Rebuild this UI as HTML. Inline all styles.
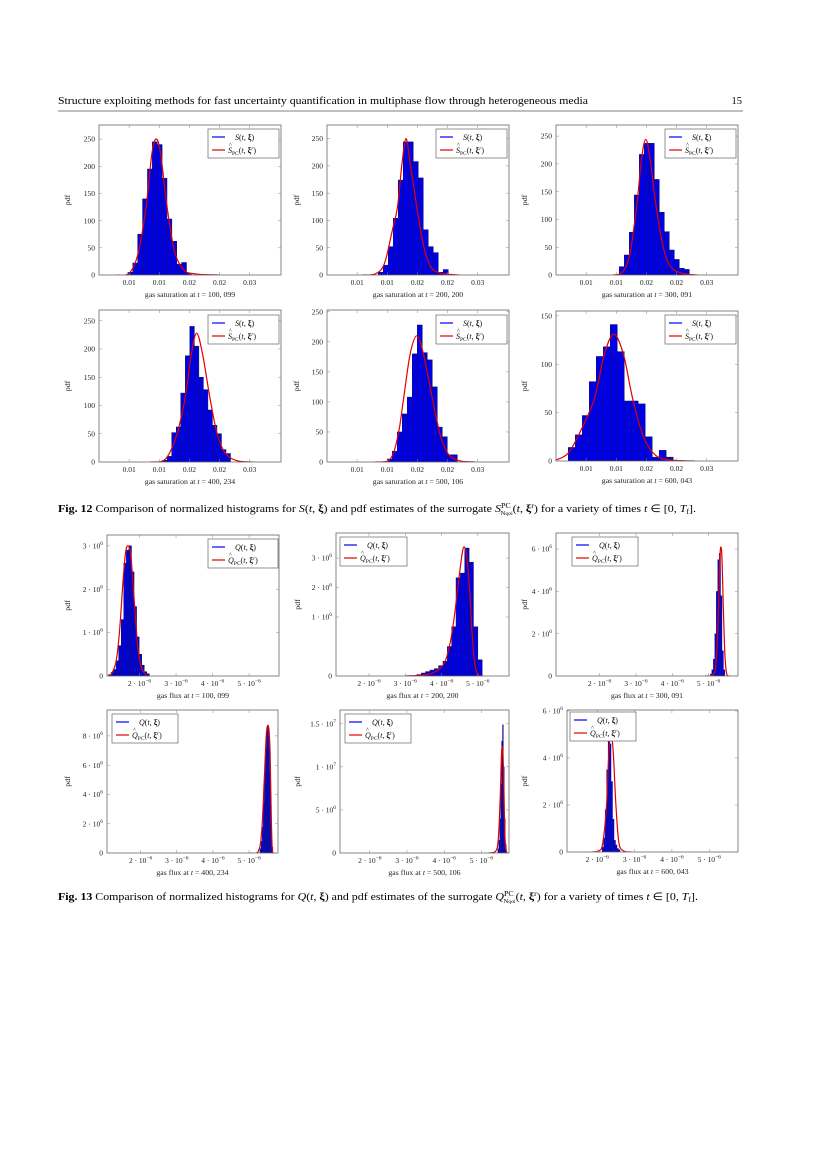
<!DOCTYPE html>
<html><head><meta charset="utf-8"><style>
html,body{margin:0;padding:0;background:#fff;}
svg{display:block;font-family:"Liberation Serif",serif;}
</style></head><body>
<svg id="page" width="827" height="1169" viewBox="0 0 827 1169" xmlns="http://www.w3.org/2000/svg">
<text x="58" y="104" font-size="10.5" textLength="530" lengthAdjust="spacingAndGlyphs">Structure exploiting methods for fast uncertainty quantification in multiphase flow through heterogeneous media</text>
<text x="742" y="104" font-size="10.5" text-anchor="end">15</text>
<line x1="58" y1="111" x2="743" y2="111" stroke="#000" stroke-width="0.6"/>
<text x="58" y="512" font-size="10.5" textLength="638" lengthAdjust="spacingAndGlyphs"><tspan font-weight="bold">Fig. 12</tspan>  Comparison of normalized histograms for <tspan font-style="italic">S</tspan>(<tspan font-style="italic">t</tspan>, <tspan font-weight="bold">ξ</tspan>) and pdf estimates of the surrogate <tspan font-style="italic">S</tspan><tspan font-size="7" dy="-4">PC</tspan><tspan font-size="6" dy="7" dx="-9">N<tspan font-size="5">qoi</tspan></tspan><tspan dy="-3">(</tspan><tspan font-style="italic">t</tspan>, <tspan font-weight="bold">ξ</tspan><tspan font-size="7" dy="-4">r</tspan><tspan dy="4">) for a variety of times </tspan><tspan font-style="italic">t</tspan> ∈ [0, <tspan font-style="italic">T</tspan><tspan font-size="7" dy="2">f</tspan><tspan dy="-2">].</tspan></text>
<text x="58" y="900" font-size="10.5" textLength="640" lengthAdjust="spacingAndGlyphs"><tspan font-weight="bold">Fig. 13</tspan>  Comparison of normalized histograms for <tspan font-style="italic">Q</tspan>(<tspan font-style="italic">t</tspan>, <tspan font-weight="bold">ξ</tspan>) and pdf estimates of the surrogate <tspan font-style="italic">Q</tspan><tspan font-size="7" dy="-4">PC</tspan><tspan font-size="6" dy="7" dx="-9">N<tspan font-size="5">qoi</tspan></tspan><tspan dy="-3">(</tspan><tspan font-style="italic">t</tspan>, <tspan font-weight="bold">ξ</tspan><tspan font-size="7" dy="-4">r</tspan><tspan dy="4">) for a variety of times </tspan><tspan font-style="italic">t</tspan> ∈ [0, <tspan font-style="italic">T</tspan><tspan font-size="7" dy="2">f</tspan><tspan dy="-2">].</tspan></text>
</svg>
<script>
// ---- Saturation data (x in saturation units, y in pdf) ----
const satXTicks = [0.005, 0.01, 0.015, 0.02, 0.025];
const satXTickLabels = ['0.01', '0.01', '0.02', '0.02', '0.03'];
const satYTicks = [0, 50, 100, 150, 200, 250];
const sat6YTicks = [0, 50, 100, 150];

const s1BinStart = 0.0048, s1BinWidth = 0.00081;
const s1Counts = [5, 22, 75, 140, 195, 245, 240, 178, 103, 62, 20, 23, 3];
const s1CurveX = [0.003, 0.005, 0.0065, 0.0078, 0.0088, 0.0095, 0.0102, 0.0113, 0.0125, 0.014, 0.016, 0.02];
const s1CurveY = [0, 3, 40, 125, 225, 250, 225, 125, 45, 10, 2, 0];

const s2BinStart = 0.0085, s2BinWidth = 0.00083;
const s2Counts = [5, 18, 52, 104, 174, 244, 244, 208, 178, 83, 52, 41, 5, 10];
const s2CurveX = [0.006, 0.008, 0.0095, 0.0108, 0.0117, 0.0124, 0.0131, 0.0138, 0.0149, 0.016, 0.0172, 0.019, 0.022];
const s2CurveY = [0, 2, 20, 80, 125, 200, 250, 205, 125, 55, 15, 3, 0];

const s3BinStart = 0.0105, s3BinWidth = 0.00083;
const s3Counts = [15, 36, 77, 144, 217, 237, 237, 172, 113, 78, 45, 28, 12, 10];
const s3CurveX = [0.0095, 0.011, 0.0122, 0.0134, 0.0142, 0.0149, 0.0156, 0.0166, 0.0178, 0.019, 0.021, 0.0235];
const s3CurveY = [0, 5, 35, 125, 210, 244, 210, 125, 50, 15, 3, 0];

const s4BinStart = 0.01057, s4BinWidth = 0.00075;
const s4Counts = [3, 10, 52, 62, 122, 188, 240, 205, 150, 128, 92, 65, 50, 22, 15];
const s4CurveX = [0.0085, 0.011, 0.0128, 0.0143, 0.0153, 0.0162, 0.0172, 0.0184, 0.0196, 0.021, 0.023, 0.0255];
const s4CurveY = [0, 5, 45, 114, 190, 228, 190, 114, 50, 15, 2, 0];

const s5BinStart = 0.0100, s5BinWidth = 0.00083;
const s5Counts = [5, 18, 50, 80, 108, 180, 228, 182, 170, 125, 58, 42, 12, 12];
const s5CurveX = [0.008, 0.0105, 0.0118, 0.0127, 0.0138, 0.0149, 0.016, 0.0175, 0.0188, 0.0202, 0.022, 0.0245];
const s5CurveY = [0, 5, 45, 105, 180, 210, 180, 105, 45, 12, 2, 0];

const s6BinStart = 0.00204, s6BinWidth = 0.00116;
const s6Counts = [14, 27, 47, 82, 108, 118, 141, 113, 62, 62, 59, 25, 4, 11, 4];
const s6CurveX = [0.0, 0.002, 0.004, 0.0064, 0.008, 0.0096, 0.0112, 0.0127, 0.0145, 0.0165, 0.019, 0.023];
const s6CurveY = [1, 8, 30, 65, 110, 131, 110, 65, 25, 6, 1, 0];

// ---- Flux data (x in units of 1e-6, y in units of 1e6) ----
const fluxXTicks = [2, 3, 4, 5];
const fluxXTickLabels = ['2 · 10^−6', '3 · 10^−6', '4 · 10^−6', '5 · 10^−6'];

const q1BinStart = 1.15, q1BinWidth = 0.07;
const q1Counts = [0.03, 0.08, 0.15, 0.35, 0.7, 1.3, 2.6, 2.9, 3.0, 2.4, 1.6, 0.9, 0.5, 0.25, 0.1, 0.05];
const q1CurveX = [1.2, 1.35, 1.45, 1.55, 1.62, 1.69, 1.76, 1.85, 1.95, 2.05, 2.2];
const q1CurveY = [0, 0.3, 1, 2.2, 2.85, 3.0, 2.8, 1.8, 0.7, 0.2, 0];
const q1YTicks = [0, 1, 2, 3];
const q1YTickLabels = ['0', '1 · 10^6', '2 · 10^6', '3 · 10^6'];

const q2BinStart = 3.32, q2BinWidth = 0.12;
const q2Counts = [-0.95, -0.9, -0.85, -0.8, -0.75, -0.65, -0.5, 0, 0.67, 2.33, 2.49, 3.34, 2.86, 0.67, -0.45];
const q2CurveX = [3.0, 3.6, 3.9, 4.1, 4.25, 4.35, 4.45, 4.55, 4.62, 4.7, 4.78, 4.85, 4.92, 5.0, 5.15];
const q2CurveY = [-1, -0.95, -0.8, -0.5, 0.2, 1.0, 2.0, 3.0, 3.38, 3.0, 1.8, 0.3, -0.6, -0.95, -1];
const q2YTicks = [-1, 1, 2, 3];
const q2YTickLabels = ['0', '1 · 10^6', '2 · 10^6', '3 · 10^6'];

const q3BinStart = 5.05, q3BinWidth = 0.04;
const q3Counts = [0.1, 0.3, 0.8, 2.0, 4.0, 5.5, 5.8, 3.8, 1.2, 0.3];
const q3CurveX = [4.9, 5.15, 5.22, 5.27, 5.31, 5.34, 5.37, 5.41, 5.45, 5.5, 5.6];
const q3CurveY = [0, 0.1, 1.0, 3.0, 5.5, 6.1, 5.5, 3.0, 1.0, 0.1, 0];
const q3YTicks = [0, 2, 4, 6];
const q3YTickLabels = ['0', '2 · 10^6', '4 · 10^6', '6 · 10^6'];

const q4BinStart = 5.3, q4BinWidth = 0.03;
const q4Counts = [0.3, 0.8, 1.8, 3.5, 5.5, 7.2, 8.3, 8.7, 8.0, 5.5, 2, 0.4];
const q4CurveX = [5.0, 5.25, 5.35, 5.42, 5.48, 5.54, 5.58, 5.61, 5.64, 5.68];
const q4CurveY = [0, 0.1, 1.5, 5, 8.2, 8.6, 7, 3, 0.3, 0];
const q4YTicks = [0, 2, 4, 6, 8];
const q4YTickLabels = ['0', '2 · 10^6', '4 · 10^6', '6 · 10^6', '8 · 10^6'];

const q5BinStart = 5.44, q5BinWidth = 0.025;
const q5Counts = [0.5, 1.5, 4, 8, 13, 14.9, 10, 4, 1];
const q5CurveX = [5.2, 5.38, 5.45, 5.5, 5.54, 5.57, 5.6, 5.63, 5.67, 5.72];
const q5CurveY = [0, 0.2, 1.5, 6, 11.5, 12, 8, 2, 0.2, 0];
const q5YTicks = [0, 5, 10, 15];
const q5YTickLabels = ['0', '5 · 10^6', '1 · 10^7', '1.5 · 10^7'];

const q6BinStart = 2.13, q6BinWidth = 0.04;
const q6Counts = [0.2, 0.6, 1.8, 3.5, 4.9, 4.6, 3, 1.4, 0.5, 0.3, 0.15, 0.1];
const q6CurveX = [1.85, 2.05, 2.15, 2.25, 2.31, 2.37, 2.43, 2.5, 2.58, 2.7, 2.9];
const q6CurveY = [0, 0.05, 0.4, 2, 4.2, 5.0, 4.2, 2, 0.4, 0.05, 0];
const q6YTicks = [0, 2, 4, 6];
const q6YTickLabels = ['0', '2 · 10^6', '4 · 10^6', '6 · 10^6'];

const NS = 'http://www.w3.org/2000/svg';
const svg = document.getElementById('page');
function mk(tag, attrs, parent) {
  const e = document.createElementNS(NS, tag);
  for (const k in attrs) e.setAttribute(k, attrs[k]);
  if (parent) parent.appendChild(e);
  return e;
}
function supText(el, label) {
  const parts = label.split('^');
  el.appendChild(document.createTextNode(parts[0]));
  if (parts[1]) {
    const t = mk('tspan', {'font-size': '5.5', dy: '-3.5'}, el);
    t.textContent = parts[1];
  }
}
function smoothPath(pts) {
  let d = 'M' + pts[0][0].toFixed(2) + ',' + pts[0][1].toFixed(2);
  for (let i = 0; i < pts.length - 1; i++) {
    const p0 = pts[i - 1] || pts[i], p1 = pts[i], p2 = pts[i + 1], p3 = pts[i + 2] || p2;
    const c1x = p1[0] + (p2[0] - p0[0]) / 6, c1y = p1[1] + (p2[1] - p0[1]) / 6;
    const c2x = p2[0] - (p3[0] - p1[0]) / 6, c2y = p2[1] - (p3[1] - p1[1]) / 6;
    d += 'C' + c1x.toFixed(2) + ',' + c1y.toFixed(2) + ' ' + c2x.toFixed(2) + ',' + c2y.toFixed(2) + ' ' + p2[0].toFixed(2) + ',' + p2[1].toFixed(2);
  }
  return d;
}
let clipId = 0;
function drawChart(c) {
  const g = mk('g', {}, svg);
  
  
  const b = c.box;
  const sx = v => b.x + (v - c.xd[0]) / (c.xd[1] - c.xd[0]) * b.w;
  const sy = v => b.y + b.h - (v - c.yd[0]) / (c.yd[1] - c.yd[0]) * b.h;
  const cid = 'clip' + (clipId++);
  const cp = mk('clipPath', {id: cid}, g);
  mk('rect', {x: b.x, y: b.y, width: b.w, height: b.h}, cp);
  const plot = mk('g', {'clip-path': 'url(#' + cid + ')'}, g);
  
  
  const base = sy(c.yd[0]);
  c.counts.forEach((v, i) => {
    const x0 = sx(c.binStart + i * c.binWidth), x1 = sx(c.binStart + (i + 1) * c.binWidth);
    const y = sy(v);
    const r = mk('rect', {x: x0.toFixed(2), y: Math.min(y, base).toFixed(2), width: (x1 - x0).toFixed(2), height: Math.abs(base - y).toFixed(2), fill: '#0000e6', stroke: '#10104a', 'stroke-width': c.thinBars ? 0.3 : 0.5}, plot);
    
    
  });
  const pts = c.cx.map((x, i) => [sx(x), sy(c.cy[i])]);
  const p = mk('path', {d: smoothPath(pts), fill: 'none', stroke: '#e00000', 'stroke-width': 1.2}, plot);
  
  
  const fr = mk('rect', {x: b.x, y: b.y, width: b.w, height: b.h, fill: 'none', stroke: '#666', 'stroke-width': 0.8}, g);
  
  
  c.xt.forEach((v, i) => {
    const x = sx(v);
    mk('line', {x1: x, x2: x, y1: b.y + b.h, y2: b.y + b.h - 3, stroke: '#888', 'stroke-width': 0.5}, g);
    mk('line', {x1: x, x2: x, y1: b.y, y2: b.y + 3, stroke: '#888', 'stroke-width': 0.5}, g);
    const t = mk('text', {x: x, y: b.y + b.h + 10, 'font-size': 7.5, 'text-anchor': 'middle', fill: '#222'}, g);
    
    
    supText(t, c.xtl[i]);
  });
  c.yt.forEach((v, i) => {
    const y = sy(v);
    mk('line', {x1: b.x, x2: b.x + 3, y1: y, y2: y, stroke: '#888', 'stroke-width': 0.5}, g);
    mk('line', {x1: b.x + b.w, x2: b.x + b.w - 3, y1: y, y2: y, stroke: '#888', 'stroke-width': 0.5}, g);
    const t = mk('text', {x: b.x - 4, y: y + 2.6, 'font-size': 7.5, 'text-anchor': 'end', fill: '#222'}, g);
    
    
    supText(t, c.ytl[i]);
  });
  const xl = mk('text', {x: b.x + b.w / 2, y: b.y + b.h + 22, 'font-size': 7.8, 'text-anchor': 'middle', fill: '#222'}, g);
  
  
  xl.appendChild(document.createTextNode(c.xlabel + ' at '));
  const ti = mk('tspan', {'font-style': 'italic'}, xl); ti.textContent = 't';
  xl.appendChild(document.createTextNode(' = ' + c.time));
  const yl = mk('text', {x: c.ylx, y: b.y + b.h / 2, 'font-size': 7.8, 'text-anchor': 'middle', fill: '#222', transform: 'rotate(-90 ' + c.ylx + ' ' + (b.y + b.h / 2) + ')'}, g);
  
  
  yl.textContent = 'pdf';
  const L = c.legend;
  const lg = mk('g', {}, g);
  
  
  mk('rect', {x: L.x, y: L.y, width: L.w, height: 29, fill: '#fff', stroke: '#666', 'stroke-width': 0.7}, lg);
  const sym = c.sym;
  [['#0000ff', 0], ['#e00000', 1]].forEach(([col, k]) => {
    const yy = L.y + 8 + k * 13;
    const ent = mk('g', {}, lg);
    
    
    mk('line', {x1: L.x + 4, x2: L.x + 17, y1: yy, y2: yy, stroke: col, 'stroke-width': 1.2}, ent);
    const t = mk('text', {x: L.x + (k === 0 ? 27 : 20), y: yy + 3, 'font-size': 8, fill: '#111'}, ent);
    const s1 = mk('tspan', {'font-style': 'italic'}, t); s1.textContent = sym;
    if (k === 1) { const s2 = mk('tspan', {'font-size': 5.5, dy: 2}, t); s2.textContent = 'PC'; mk('tspan', {dy: -2}, t).textContent = '('; }
    else t.appendChild(document.createTextNode('('));
    const s3 = mk('tspan', {'font-style': 'italic'}, t); s3.textContent = 't';
    t.appendChild(document.createTextNode(', '));
    const s4 = mk('tspan', {'font-weight': 'bold'}, t); s4.textContent = 'ξ';
    if (k === 1) { const s5 = mk('tspan', {'font-size': 5.5, dy: -3, 'font-style': 'italic'}, t); s5.textContent = 'r'; mk('tspan', {dy: 3}, t).textContent = ')'; }
    else t.appendChild(document.createTextNode(')'));
    if (k === 1) { const hat = mk('text', {x: L.x + 21, y: yy - 3.5, 'font-size': 6, fill: '#111'}, ent); hat.textContent = '^'; }
  });
}
const satXd = [0, 0.0302];
const sat = [
  {name: 'chart-saturation-t100099', box: {x: 99, y: 125, w: 182, h: 150}, yd: [0, 276], counts: s1Counts, binStart: s1BinStart, binWidth: s1BinWidth, cx: s1CurveX, cy: s1CurveY, time: '100, 099', ylx: 70, legend: {x: 208, y: 129, w: 71}},
  {name: 'chart-saturation-t200200', box: {x: 327, y: 125, w: 182, h: 150}, yd: [0, 275], counts: s2Counts, binStart: s2BinStart, binWidth: s2BinWidth, cx: s2CurveX, cy: s2CurveY, time: '200, 200', ylx: 299, legend: {x: 436, y: 129, w: 71}},
  {name: 'chart-saturation-t300091', box: {x: 556, y: 125, w: 182, h: 150}, yd: [0, 270], counts: s3Counts, binStart: s3BinStart, binWidth: s3BinWidth, cx: s3CurveX, cy: s3CurveY, time: '300, 091', ylx: 527, legend: {x: 665, y: 129, w: 71}},
  {name: 'chart-saturation-t400234', box: {x: 99, y: 310, w: 182, h: 152}, yd: [0, 269], counts: s4Counts, binStart: s4BinStart, binWidth: s4BinWidth, cx: s4CurveX, cy: s4CurveY, time: '400, 234', ylx: 70, legend: {x: 208, y: 315, w: 71}},
  {name: 'chart-saturation-t500106', box: {x: 327, y: 310, w: 182, h: 152}, yd: [0, 253], counts: s5Counts, binStart: s5BinStart, binWidth: s5BinWidth, cx: s5CurveX, cy: s5CurveY, time: '500, 106', ylx: 299, legend: {x: 436, y: 315, w: 71}},
  {name: 'chart-saturation-t600043', box: {x: 556, y: 311, w: 182, h: 150}, yd: [0, 155], counts: s6Counts, binStart: s6BinStart, binWidth: s6BinWidth, cx: s6CurveX, cy: s6CurveY, time: '600, 043', ylx: 527, legend: {x: 665, y: 315, w: 71}, yt: sat6YTicks}
];
sat.forEach(c => {
  c.xd = satXd; c.xt = satXTicks; c.xtl = satXTickLabels;
  c.yt = c.yt || satYTicks; c.ytl = c.yt.map(String);
  c.xlabel = 'gas saturation'; c.sym = 'S';
  drawChart(c);
});
const flux = [
  {name: 'chart-flux-t100099', box: {x: 107, y: 535, w: 172, h: 141}, xd: [1.11, 5.82], yd: [0, 3.25], counts: q1Counts, binStart: q1BinStart, binWidth: q1BinWidth, cx: q1CurveX, cy: q1CurveY, yt: q1YTicks, ytl: q1YTickLabels, time: '100, 099', ylx: 70, legend: {x: 208, y: 539, w: 70}},
  {name: 'chart-flux-t200200', box: {x: 336, y: 533, w: 173, h: 143}, xd: [1.09, 5.86], yd: [-1, 3.85], counts: q2Counts, binStart: q2BinStart, binWidth: q2BinWidth, cx: q2CurveX, cy: q2CurveY, yt: q2YTicks, ytl: q2YTickLabels, time: '200, 200', ylx: 300, legend: {x: 340, y: 537, w: 67}},
  {name: 'chart-flux-t300091', box: {x: 556, y: 533, w: 182, h: 143}, xd: [0.8, 5.81], yd: [0, 6.76], counts: q3Counts, binStart: q3BinStart, binWidth: q3BinWidth, cx: q3CurveX, cy: q3CurveY, yt: q3YTicks, ytl: q3YTickLabels, time: '300, 091', ylx: 527, legend: {x: 572, y: 537, w: 66}, thinBars: true},
  {name: 'chart-flux-t400234', box: {x: 107, y: 710, w: 171, h: 143}, xd: [1.07, 5.8], yd: [0, 9.77], counts: q4Counts, binStart: q4BinStart, binWidth: q4BinWidth, cx: q4CurveX, cy: q4CurveY, yt: q4YTicks, ytl: q4YTickLabels, time: '400, 234', ylx: 70, legend: {x: 112, y: 714, w: 66}, thinBars: true},
  {name: 'chart-flux-t500106', box: {x: 340, y: 710, w: 169, h: 143}, xd: [1.2, 5.74], yd: [0, 16.6], counts: q5Counts, binStart: q5BinStart, binWidth: q5BinWidth, cx: q5CurveX, cy: q5CurveY, yt: q5YTicks, ytl: q5YTickLabels, time: '500, 106', ylx: 300, legend: {x: 345, y: 714, w: 66}, thinBars: true},
  {name: 'chart-flux-t600043', box: {x: 567, y: 710, w: 171, h: 142}, xd: [1.19, 5.77], yd: [0, 6.04], counts: q6Counts, binStart: q6BinStart, binWidth: q6BinWidth, cx: q6CurveX, cy: q6CurveY, yt: q6YTicks, ytl: q6YTickLabels, time: '600, 043', ylx: 527, legend: {x: 570, y: 712, w: 66}, thinBars: true}
];
flux.forEach(c => {
  c.xt = fluxXTicks; c.xtl = fluxXTickLabels;
  c.xlabel = 'gas flux'; c.sym = 'Q';
  drawChart(c);
});
</script>
</body></html>
